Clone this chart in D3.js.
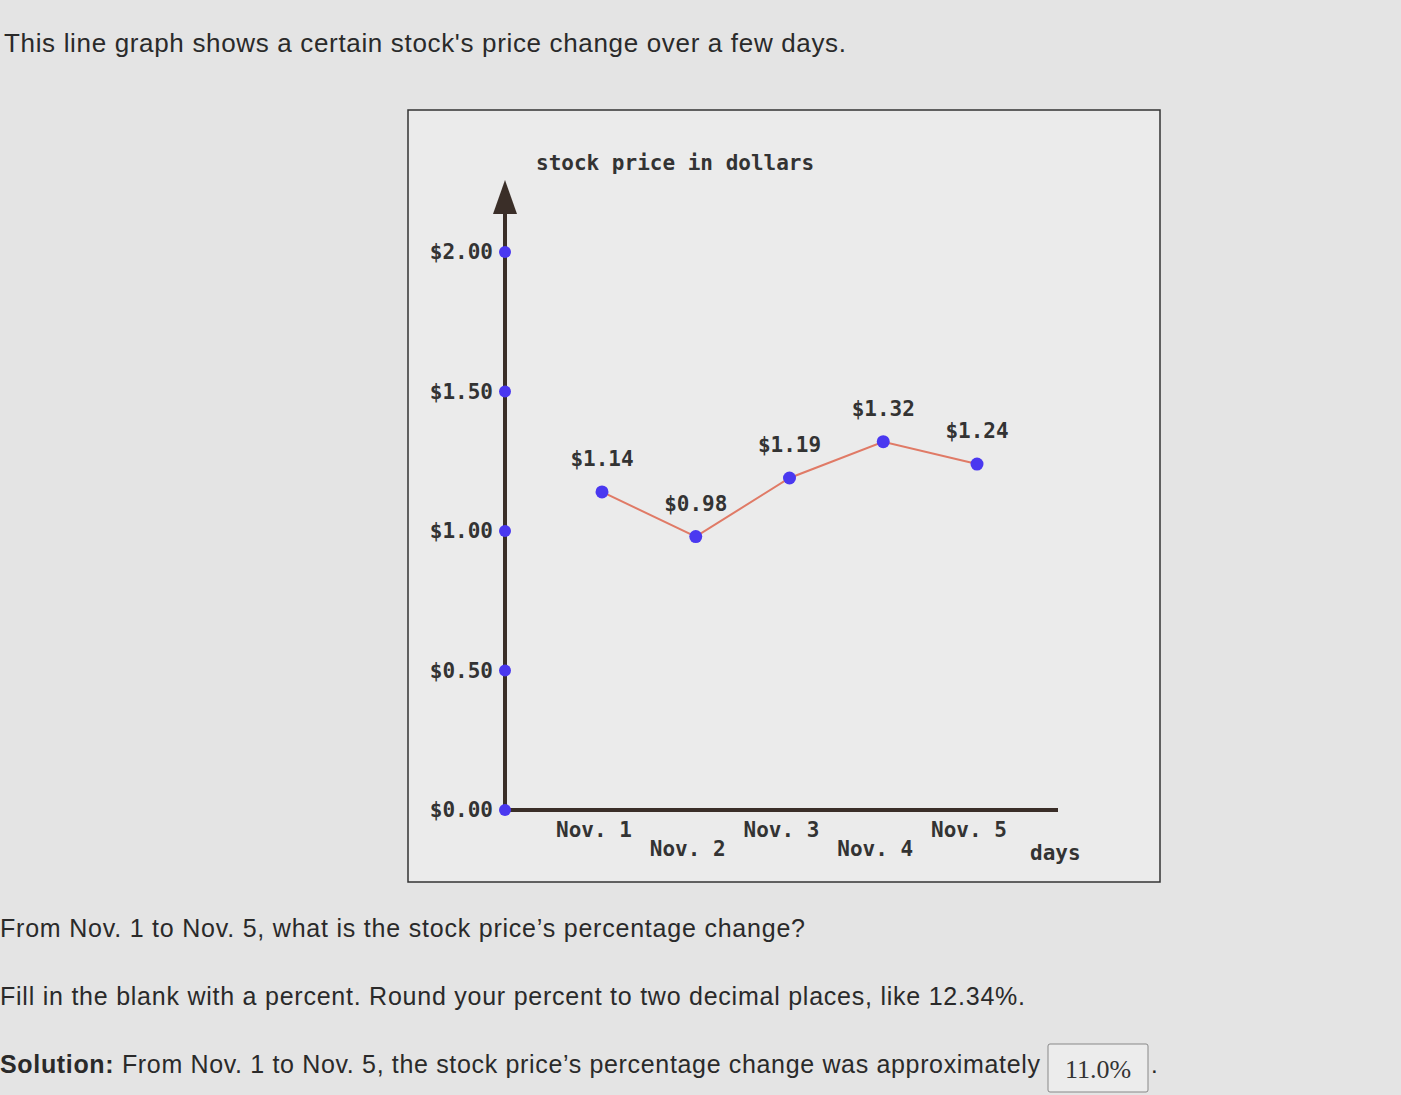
<!DOCTYPE html>
<html><head><meta charset="utf-8">
<script src="https://cdn.jsdelivr.net/npm/d3@7"></script>
<style>
body{margin:0;background:#e4e4e4;}
svg{display:block;}
</style></head>
<body>
<svg id="c" width="1401" height="1095"></svg>
<script>
// data
const days = ['Nov. 1', 'Nov. 2', 'Nov. 3', 'Nov. 4', 'Nov. 5'];
const prices = [1.14, 0.98, 1.19, 1.32, 1.24];
const priceLabels = ['$1.14', '$0.98', '$1.19', '$1.32', '$1.24'];
const yTicks = [0, 0.5, 1, 1.5, 2];
const yTickLabels = ['$0.00', '$0.50', '$1.00', '$1.50', '$2.00'];

const svg = d3.select('#c');
const mono = '"DejaVu Sans Mono", monospace';
const sans = '"Liberation Sans", "Noto Sans", sans-serif';

// header text
svg.append('text').attr('x', 4).attr('y', 52).attr('font-family', sans)
  .attr('font-size', 26).attr('fill', '#2a2a2a').attr('textLength', 842)
  .text("This line graph shows a certain stock's price change over a few days.");

// chart box
svg.append('rect').attr('x', 408).attr('y', 110).attr('width', 752).attr('height', 772)
  .attr('fill', '#ebebeb').attr('stroke', '#333').attr('stroke-width', 1.5);

// scales
const x = d3.scalePoint().domain(days).range([602, 977]);
const y = d3.scaleLinear().domain([0, 2]).range([810, 252]);
const x0 = 505;

// axes
svg.append('line').attr('x1', x0).attr('x2', 1058).attr('y1', y(0)).attr('y2', y(0))
  .attr('stroke', '#3a2e28').attr('stroke-width', 4);
svg.append('line').attr('x1', x0).attr('x2', x0).attr('y1', y(0)).attr('y2', 205)
  .attr('stroke', '#3a2e28').attr('stroke-width', 4);
svg.append('path').attr('d', `M${x0 - 12},214 L${x0},180 L${x0 + 12},214 Z`).attr('fill', '#3a2e28');

svg.append('text').attr('x', 536).attr('y', 170).attr('font-family', mono).attr('font-weight', 'bold')
  .attr('font-size', 21).attr('fill', '#333').text('stock price in dollars');
svg.append('text').attr('x', 1030).attr('y', 860).attr('font-family', mono).attr('font-weight', 'bold')
  .attr('font-size', 21).attr('fill', '#333').text('days');

// y ticks
yTicks.forEach((v, i) => {
  svg.append('circle').attr('cx', x0).attr('cy', y(v)).attr('r', 6).attr('fill', '#4a38f0');
  svg.append('text').attr('x', x0 - 12).attr('y', y(v) + 7).attr('text-anchor', 'end')
    .attr('font-family', mono).attr('font-weight', 'bold').attr('font-size', 21).attr('fill', '#333')
    .text(yTickLabels[i]);
});

// x labels (alternating)
days.forEach((d, i) => {
  svg.append('text').attr('x', x(d) - 8).attr('y', i % 2 ? 856 : 837).attr('text-anchor', 'middle')
    .attr('font-family', mono).attr('font-weight', 'bold').attr('font-size', 21).attr('fill', '#333').text(d);
});

// line + points
svg.append('path').datum(prices)
  .attr('d', d3.line().x((v, i) => x(days[i])).y(v => y(v)))
  .attr('fill', 'none').attr('stroke', '#e07a66').attr('stroke-width', 2);
prices.forEach((v, i) => {
  svg.append('circle').attr('cx', x(days[i])).attr('cy', y(v)).attr('r', 6.5).attr('fill', '#4a38f0');
  svg.append('text').attr('x', x(days[i])).attr('y', y(v) - 26).attr('text-anchor', 'middle')
    .attr('font-family', mono).attr('font-weight', 'bold').attr('font-size', 21).attr('fill', '#333')
    .text(priceLabels[i]);
});

// bottom texts
svg.append('text').attr('x', 0).attr('y', 937).attr('font-family', sans).attr('font-size', 25)
  .attr('fill', '#2a2a2a').attr('textLength', 805)
  .text('From Nov. 1 to Nov. 5, what is the stock price\u2019s percentage change?');
svg.append('text').attr('x', 0).attr('y', 1005).attr('font-family', sans).attr('font-size', 25)
  .attr('fill', '#2a2a2a').attr('textLength', 1025)
  .text('Fill in the blank with a percent. Round your percent to two decimal places, like 12.34%.');
const sol = svg.append('text').attr('x', 0).attr('y', 1073).attr('font-family', sans).attr('font-size', 25)
  .attr('fill', '#2a2a2a').attr('textLength', 1040);
sol.append('tspan').attr('font-weight', 'bold').text('Solution:');
sol.append('tspan').text(' From Nov. 1 to Nov. 5, the stock price\u2019s percentage change was approximately');
svg.append('rect').attr('x', 1048).attr('y', 1044).attr('width', 100).attr('height', 48)
  .attr('fill', '#ececec').attr('stroke', '#888').attr('rx', 2);
svg.append('text').attr('x', 1098).attr('y', 1078).attr('text-anchor', 'middle')
  .attr('font-family', '"Liberation Serif", serif').attr('font-size', 26).attr('fill', '#333').text('11.0%');
svg.append('text').attr('x', 1151).attr('y', 1073).attr('font-family', sans).attr('font-size', 24)
  .attr('fill', '#2a2a2a').text('.');
</script>
</body></html>
